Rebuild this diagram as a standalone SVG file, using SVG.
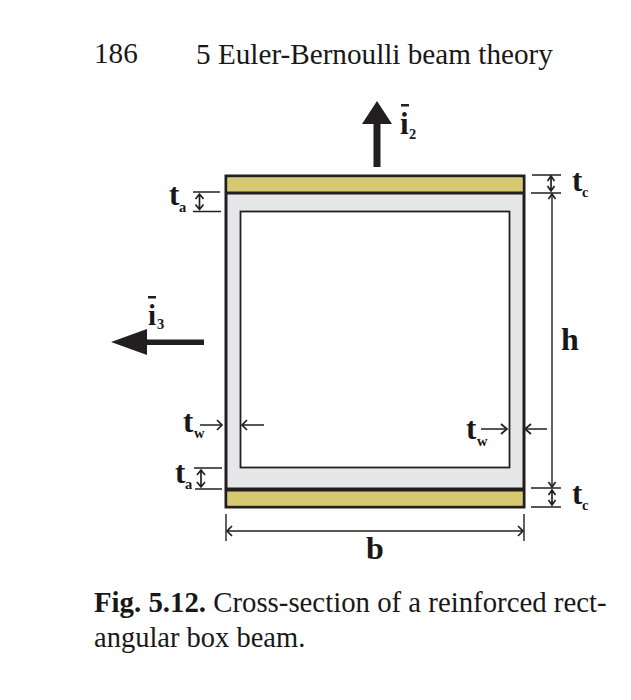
<svg xmlns="http://www.w3.org/2000/svg" width="631" height="700" viewBox="0 0 631 700">
<style>
text{font-family:"Liberation Serif","Times New Roman",serif;fill:#1a1718}
.pg{font-size:29.200px}
.lb{font-weight:bold;font-size:31px}
.sub{font-weight:bold;font-size:14.500px}
.d{stroke:#231f20;stroke-width:1.4;fill:none}
.a{stroke:#231f20;stroke-width:1.7;fill:none}
.f{fill:#231f20;stroke:none}
</style>
<rect width="631" height="700" fill="#fff"/>
<g id="page-text">
<text class="pg" x="94" y="63">186</text>
<text class="pg" x="196" y="64">5 Euler-Bernoulli beam theory</text>
<text x="94" y="611.500" font-size="28.800"><tspan font-weight="bold">Fig. 5.12.</tspan> Cross-section of a reinforced rect-</text>
<text x="94" y="646.500" font-size="28.500">angular box beam.</text>
</g>
<g id="beam">
<rect x="226" y="176" width="298" height="331" fill="#e6e7e8" stroke="#231f20" stroke-width="3"/>
<rect x="227.500" y="177.500" width="295" height="14.500" fill="#d7c96f"/>
<rect x="227.500" y="491" width="295" height="14.500" fill="#d7c96f"/>
<rect x="225" y="191.500" width="300" height="3" fill="#231f20"/>
<rect x="225" y="487.500" width="300" height="4" fill="#231f20"/>
<rect x="240.500" y="211.500" width="269" height="256" fill="#fff" stroke="#231f20" stroke-width="1.800"/>
</g>
<g id="connectors">
<path class="f" d="M373.500 167h7v-43h11.500l-15-23-15 23h11.500z"/>
<path class="f" d="M204 339.500v5.500h-57v10l-36-13 36-13v10.500z"/>
<path class="d" d="M193 192h27M193 211.500h28"/>
<path class="a" d="M199.500 194v15M195.500 199l4-5 4 5M195.500 204.500l4 5 4-5"/>
<path class="d" d="M194 468h28M195 489h27"/>
<path class="a" d="M201 470v17M197 475l4-5 4 5M197 482l4 5 4-5"/>
<path class="d" d="M532 175h29M531 193h30"/>
<path class="a" d="M551 176v15M547.500 181l3.500-5 3.500 5M547.500 186l3.500 5 3.500-5"/>
<path class="d" d="M552 194v293"/>
<path class="a" d="M548.500 199l3.500-5 3.500 5M548.500 482l3.500 5 3.500-5"/>
<path class="d" d="M531 488h30M531 507h30"/>
<path class="a" d="M552 490v15M548.500 495l3.500-5 3.500 5M548.500 500l3.500 5 3.500-5"/>
<path class="d" d="M200 425h22M264 425h-22"/>
<path class="a" d="M217 420l5 5-5 5M247 420l-5 5 5 5"/>
<path class="d" d="M481 429h25M547 429h-22"/>
<path class="a" d="M501 424l6 5-6 5M531 424l-6 5 6 5"/>
<path class="d" d="M226 514v27M524 514v27M227 531h296"/>
<path class="a" d="M232 526l-5 5 5 5M518 526l5 5-5 5"/>
</g>
<g id="labels">
<text class="lb" x="400" y="134">i</text><text class="sub" x="409" y="139">2</text>
<rect x="401" y="104" width="8" height="2.500" fill="#231f20"/>
<text class="lb" x="148" y="325" style="font-size:29px">i</text><text class="sub" x="157" y="329">3</text>
<rect x="148" y="296" width="8" height="2.500" fill="#231f20"/>
<text class="lb" x="169" y="205">t</text><text class="sub" x="179" y="212">a</text>
<text class="lb" x="175" y="483">t</text><text class="sub" x="185" y="489">a</text>
<text class="lb" x="183" y="432">t</text><text class="sub" x="194" y="438">w</text>
<text class="lb" x="466" y="439">t</text><text class="sub" x="477" y="446">w</text>
<text class="lb" x="572" y="191">t</text><text class="sub" x="582" y="197">c</text>
<text class="lb" x="572" y="504">t</text><text class="sub" x="582" y="510">c</text>
<text class="lb" x="561" y="350" style="font-size:32px">h</text>
<text class="lb" x="366" y="559" style="font-size:32px">b</text>
</g>
</svg>
